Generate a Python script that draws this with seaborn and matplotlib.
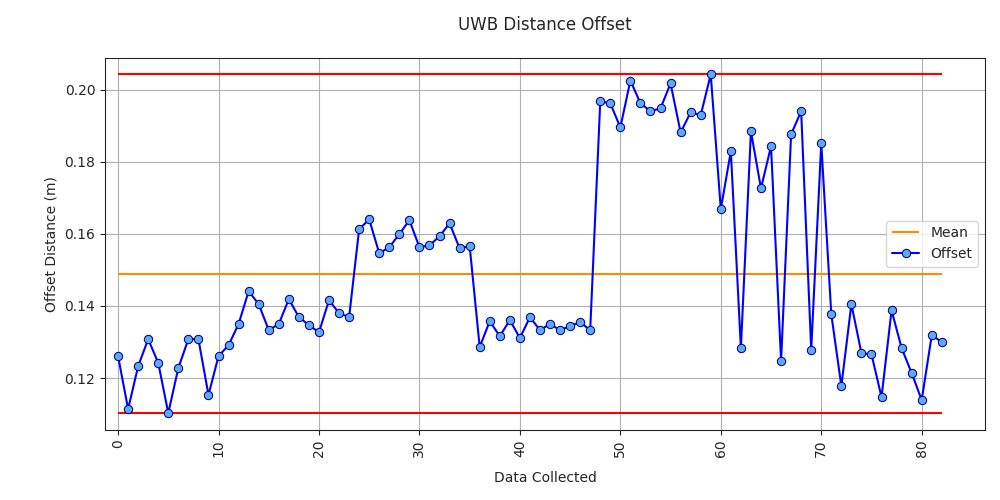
import numpy as np
import pandas as pd
import matplotlib
matplotlib.use("Agg")
import matplotlib.pyplot as plt
import seaborn as sns

# Offset readings (m), one per collected sample
offsets = [
    0.1261, 0.1114, 0.1233, 0.1308, 0.1242, 0.1103, 0.1228, 0.1308, 0.1308, 0.1153,
    0.1261, 0.1291, 0.1350, 0.1441, 0.1405, 0.1333, 0.1350, 0.1419, 0.1369, 0.1347,
    0.1327, 0.1416, 0.1380, 0.1369, 0.1613, 0.1640, 0.1546, 0.1563, 0.1599, 0.1638,
    0.1563, 0.1568, 0.1593, 0.1629, 0.1560, 0.1566, 0.1286, 0.1358, 0.1316, 0.1361,
    0.1311, 0.1369, 0.1333, 0.1350, 0.1333, 0.1344, 0.1355, 0.1333, 0.1967, 0.1962,
    0.1895, 0.2025, 0.1962, 0.1940, 0.1948, 0.2017, 0.1881, 0.1937, 0.1929, 0.2042,
    0.1668, 0.1829, 0.1283, 0.1884, 0.1726, 0.1843, 0.1247, 0.1876, 0.1940, 0.1278,
    0.1851, 0.1377, 0.1178, 0.1405, 0.1269, 0.1266, 0.1147, 0.1388, 0.1283, 0.1214,
    0.1139, 0.1319, 0.1300,
]
samples = np.arange(len(offsets))
df = pd.DataFrame({"sample": samples, "offset": offsets})

mean_val = np.mean(offsets)
max_val = np.max(offsets)
min_val = np.min(offsets)

sns.set_style("ticks")
fig, ax = plt.subplots(figsize=(10, 5), dpi=100)

ax.hlines(mean_val, samples[0], samples[-1], color="darkorange", label="Mean")
ax.hlines(max_val, samples[0], samples[-1], color="red")
ax.hlines(min_val, samples[0], samples[-1], color="red")
sns.lineplot(data=df, x="sample", y="offset", ax=ax, color="blue", marker="o",
             markerfacecolor="#5aaaf5", markeredgecolor="#000080", markersize=6,
             label="Offset")

ax.set_xlim(-1.3, 86.3)
ax.grid(True, color="#b0b0b0")
ax.set_title("UWB Distance Offset", pad=20)
ax.set_xlabel("Data Collected", labelpad=10)
ax.set_ylabel("Offset Distance (m)")
ax.tick_params(axis="x", rotation=90)
ax.legend(loc="center right")

fig.subplots_adjust(left=0.105, right=0.985, top=0.885, bottom=0.14)
fig.savefig("out.png")
